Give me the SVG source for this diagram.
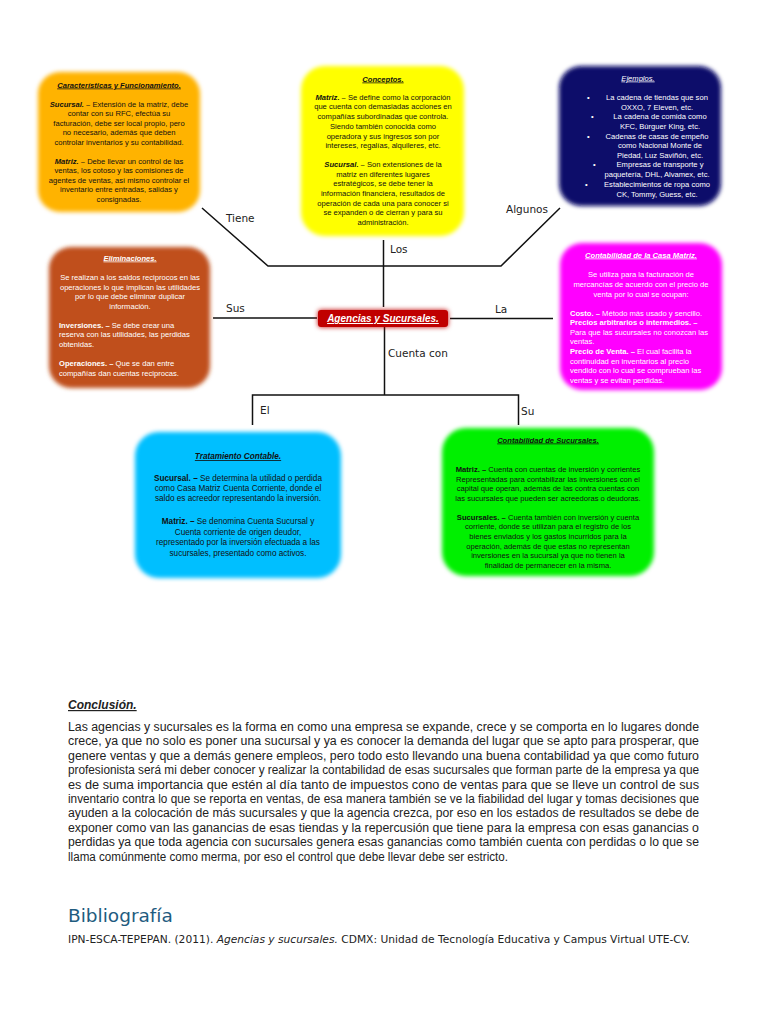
<svg xmlns="http://www.w3.org/2000/svg" width="768" height="1024" viewBox="0 0 768 1024">
<defs>
<filter id="soft" x="-10%" y="-10%" width="120%" height="120%"><feGaussianBlur stdDeviation="2.2"/></filter>
<filter id="glow" x="-20%" y="-60%" width="140%" height="220%"><feGaussianBlur in="SourceGraphic" stdDeviation="2.5" result="b"/><feMerge><feMergeNode in="b"/><feMergeNode in="SourceGraphic"/></feMerge></filter>
<style>
.t{font-family:"Liberation Sans",Arial,sans-serif;font-size:7.6px;fill:#111}
.w{fill:#fff}
.m{text-anchor:middle}
.b{font-weight:bold}
.bi{font-weight:bold;font-style:italic}
.u{text-decoration:underline}
.lbl{font-family:"DejaVu Sans",sans-serif;font-size:10.5px;fill:#222}
.ln{stroke:#111;stroke-width:1.5;fill:none}
.c{font-family:"Liberation Sans Narrow","Liberation Sans",Arial,sans-serif;font-size:12px;fill:#222}
</style>
</defs>
<rect width="768" height="1024" fill="#fff"/>

<g id="connectors">
<polyline class="ln" points="202,208 268,266 501,266 560,208"/>
<line class="ln" x1="383.5" y1="240" x2="383.5" y2="307"/>
<line class="ln" x1="213" y1="318" x2="317" y2="318"/>
<line class="ln" x1="450" y1="318.5" x2="553" y2="318.5"/>
<line class="ln" x1="384.5" y1="327" x2="384.5" y2="395" stroke-width="2"/>
<polyline class="ln" points="252.5,425 252.5,395 518.5,395 518.5,425"/>
<text class="lbl" x="226" y="222">Tiene</text>
<text class="lbl" x="506" y="213">Algunos</text>
<text class="lbl" x="390" y="253">Los</text>
<text class="lbl" x="226" y="312">Sus</text>
<text class="lbl" x="495" y="313">La</text>
<text class="lbl" x="388" y="357">Cuenta con</text>
<text class="lbl" x="260" y="414">El</text>
<text class="lbl" x="521" y="415">Su</text>
</g>

<g id="center">
<rect x="318" y="310" width="130" height="17" rx="3" fill="#C00000" filter="url(#glow)"/>
<text class="t m w bi u" x="383" y="322" style="font-size:10px">Agencias y Sucursales.</text>
</g>

<g id="caracteristicas">
<rect x="38" y="72" width="162" height="140" rx="22" fill="#FFB300" filter="url(#soft)"/>
<text class="t m bi u" x="119" y="87.5">Características y Funcionamiento.</text>
<text class="t m" x="119" y="106.5"><tspan class="bi">Sucursal. –</tspan> Extensión de la matriz, debe</text>
<text class="t m" x="119" y="116">contar con su RFC, efectúa su</text>
<text class="t m" x="119" y="125.5">facturación, debe ser local propio, pero</text>
<text class="t m" x="119" y="135">no necesario, además que deben</text>
<text class="t m" x="119" y="144.5">controlar inventarios y su contabilidad.</text>
<text class="t m" x="119" y="163.5"><tspan class="bi">Matriz. –</tspan> Debe llevar un control de las</text>
<text class="t m" x="119" y="173">ventas, los cotoso y las comisiones de</text>
<text class="t m" x="119" y="182.5">agentes de ventas, así mismo controlar el</text>
<text class="t m" x="119" y="192">inventario entre entradas, salidas y</text>
<text class="t m" x="119" y="201.5">consignadas.</text>
</g>

<g id="conceptos">
<rect x="301" y="66" width="163" height="170" rx="24" fill="#FFFF00" filter="url(#soft)"/>
<text class="t m bi u" x="383" y="81.5">Conceptos.</text>
<text class="t m" x="383" y="99.5"><tspan class="bi">Matriz. –</tspan> Se define como la corporación</text>
<text class="t m" x="383" y="108.5">que cuenta con demasiadas acciones en</text>
<text class="t m" x="383" y="118.5">compañías subordinadas que controla.</text>
<text class="t m" x="383" y="128.5">Siendo también conocida como</text>
<text class="t m" x="383" y="138.5">operadora y sus ingresos son por</text>
<text class="t m" x="383" y="147.5">intereses, regalías, alquileres, etc.</text>
<text class="t m" x="383" y="166.5"><tspan class="bi">Sucursal. –</tspan> Son extensiones de la</text>
<text class="t m" x="383" y="176.5">matriz en diferentes lugares</text>
<text class="t m" x="383" y="185.5">estratégicos, se debe tener la</text>
<text class="t m" x="383" y="195.5">información financiera, resultados de</text>
<text class="t m" x="383" y="205.5">operación de cada una para conocer si</text>
<text class="t m" x="383" y="214.5">se expanden o de cierran y para su</text>
<text class="t m" x="383" y="224.5">administración.</text>
</g>

<g id="ejemplos">
<rect x="559" y="66" width="162" height="140" rx="22" fill="#07076B" filter="url(#soft)"/>
<text class="t m w u" x="638" y="80.5" style="font-style:italic">Ejemplos.</text>
<text class="t w" x="587" y="99.5">•</text>
<text class="t m w" x="657" y="99.5">La cadena de tiendas que son</text>
<text class="t m w" x="657" y="109.5">OXXO, 7 Eleven, etc.</text>
<text class="t w" x="591" y="118.5">•</text>
<text class="t m w" x="660" y="118.5">La cadena de comida como</text>
<text class="t m w" x="660" y="128.5">KFC, Búrguer King, etc.</text>
<text class="t w" x="587" y="138.5">•</text>
<text class="t m w" x="657" y="138.5">Cadenas de casas de empeño</text>
<text class="t m w" x="660" y="147.5">como Nacional Monte de</text>
<text class="t m w" x="660" y="157.5">Piedad, Luz Saviñón, etc.</text>
<text class="t w" x="593" y="166.5">•</text>
<text class="t m w" x="660" y="166.5">Empresas de transporte y</text>
<text class="t m w" x="657" y="176.5">paquetería, DHL, Alvamex, etc.</text>
<text class="t w" x="585" y="186.5">•</text>
<text class="t m w" x="657" y="186.5">Establecimientos de ropa como</text>
<text class="t m w" x="657" y="196.5">CK, Tommy, Guess, etc.</text>
</g>

<g id="eliminaciones">
<rect x="49" y="247" width="161" height="141" rx="22" fill="#C04F1A" filter="url(#soft)"/>
<text class="t m w bi u" x="130" y="260.5">Eliminaciones.</text>
<text class="t m w" x="130" y="279.5">Se realizan a los saldos reciprocos en las</text>
<text class="t m w" x="130" y="289.5">operaciones lo que implican las utilidades</text>
<text class="t m w" x="130" y="298.5">por lo que debe eliminar duplicar</text>
<text class="t m w" x="130" y="308.5">información.</text>
<text class="t w" x="59" y="327.5"><tspan class="b">Inversiones. –</tspan> Se debe crear una</text>
<text class="t w" x="59" y="336.5">reserva con las utilidades, las perdidas</text>
<text class="t w" x="59" y="346.5">obtenidas.</text>
<text class="t w" x="59" y="365.5"><tspan class="b">Operaciones. –</tspan> Que se dan entre</text>
<text class="t w" x="59" y="375.5">compañías dan cuentas reciprocas.</text>
</g>

<g id="casa-matriz">
<rect x="560" y="243" width="162" height="147" rx="22" fill="#FF00FF" filter="url(#soft)"/>
<text class="t m w bi u" x="641" y="257.5">Contabilidad de la Casa Matriz.</text>
<text class="t m w" x="641" y="276.5">Se utiliza para la facturación de</text>
<text class="t m w" x="641" y="286.5">mercancías de acuerdo con el precio de</text>
<text class="t m w" x="641" y="296.5">venta por lo cual se ocupan:</text>
<text class="t w" x="570" y="315.5"><tspan class="b">Costo. –</tspan> Método más usado y sencillo.</text>
<text class="t w b" x="570" y="324.5">Precios arbitrarios o intermedios. –</text>
<text class="t w" x="570" y="334.5">Para que las sucursales no conozcan las</text>
<text class="t w" x="570" y="343.5">ventas.</text>
<text class="t w" x="570" y="353.5"><tspan class="b">Precio de Venta. –</tspan> El cual facilita la</text>
<text class="t w" x="570" y="363.5">continuidad en inventarios al precio</text>
<text class="t w" x="570" y="372.5">vendido con lo cual se comprueban las</text>
<text class="t w" x="570" y="382.5">ventas y se evitan perdidas.</text>
</g>

<g id="tratamiento">
<rect x="135" y="432" width="206" height="146" rx="24" fill="#00BFFF" filter="url(#soft)"/>
<text class="t m bi u" x="238" y="459" style="font-size:8.2px">Tratamiento Contable.</text>
<text class="t m" x="238" y="481" style="font-size:8.2px"><tspan class="b">Sucursal. –</tspan> Se determina la utilidad o perdida</text>
<text class="t m" x="238" y="491" style="font-size:8.2px">como Casa Matriz Cuenta Corriente, donde el</text>
<text class="t m" x="238" y="501" style="font-size:8.2px">saldo es acreedor representando la inversión.</text>
<text class="t m" x="238" y="524" style="font-size:8.2px"><tspan class="b">Matriz. –</tspan> Se denomina Cuenta Sucursal y</text>
<text class="t m" x="238" y="535" style="font-size:8.2px">Cuenta corriente de origen deudor,</text>
<text class="t m" x="238" y="545" style="font-size:8.2px">representado por la inversión efectuada a las</text>
<text class="t m" x="238" y="556" style="font-size:8.2px">sucursales, presentado como activos.</text>
</g>

<g id="sucursales">
<rect x="442" y="428" width="212" height="148" rx="24" fill="#00F000" filter="url(#soft)"/>
<text class="t m bi u" x="548" y="442.5">Contabilidad de Sucursales.</text>
<text class="t m" x="548" y="471.5"><tspan class="b">Matriz. –</tspan> Cuenta con cuentas de inversión y corrientes</text>
<text class="t m" x="548" y="481.5">Representadas para contabilizar las inversiones con el</text>
<text class="t m" x="548" y="490.5">capital que operan, además de las contra cuentas con</text>
<text class="t m" x="548" y="500.5">las sucursales que pueden ser acreedoras o deudoras.</text>
<text class="t m" x="548" y="519.5"><tspan class="b">Sucursales. –</tspan> Cuenta también con inversión y cuenta</text>
<text class="t m" x="548" y="528.5">corriente, donde se utilizan para el registro de los</text>
<text class="t m" x="548" y="538.5">bienes enviados y los gastos incurridos para la</text>
<text class="t m" x="548" y="548.5">operación, además de que estas no representan</text>
<text class="t m" x="548" y="557.5">inversiones en la sucursal ya que no tienen la</text>
<text class="t m" x="548" y="567.5">finalidad de permanecer en la misma.</text>
</g>

<g id="conclusion">
<text class="c" x="68" y="709" style="font-weight:bold;font-style:italic;text-decoration:underline">Conclusión.</text>
<text class="c" x="68" y="731" textLength="631" lengthAdjust="spacingAndGlyphs">Las agencias y sucursales es la forma en como una empresa se expande, crece y se comporta en lo lugares donde</text>
<text class="c" x="68" y="745.4" textLength="631" lengthAdjust="spacingAndGlyphs">crece, ya que no solo es poner una sucursal y ya es conocer la demanda del lugar que se apto para prosperar, que</text>
<text class="c" x="68" y="759.8" textLength="631" lengthAdjust="spacingAndGlyphs">genere ventas y que a demás genere empleos, pero todo esto llevando una buena contabilidad ya que como futuro</text>
<text class="c" x="68" y="774.2" textLength="631" lengthAdjust="spacingAndGlyphs">profesionista será mi deber conocer y realizar la contabilidad de esas sucursales que forman parte de la empresa ya que</text>
<text class="c" x="68" y="788.6" textLength="631" lengthAdjust="spacingAndGlyphs">es de suma importancia que estén al día tanto de impuestos cono de ventas para que se lleve un control de sus</text>
<text class="c" x="68" y="803" textLength="631" lengthAdjust="spacingAndGlyphs">inventario contra lo que se reporta en ventas, de esa manera también se ve la fiabilidad del lugar y tomas decisiones que</text>
<text class="c" x="68" y="817.4" textLength="631" lengthAdjust="spacingAndGlyphs">ayuden a la colocación de más sucursales y que la agencia crezca, por eso en los estados de resultados se debe de</text>
<text class="c" x="68" y="831.8" textLength="631" lengthAdjust="spacingAndGlyphs">exponer como van las ganancias de esas tiendas y la repercusión que tiene para la empresa con esas ganancias o</text>
<text class="c" x="68" y="846.2" textLength="631" lengthAdjust="spacingAndGlyphs">perdidas ya que toda agencia con sucursales genera esas ganancias como también cuenta con perdidas o lo que se</text>
<text class="c" x="68" y="860.6" textLength="440" lengthAdjust="spacingAndGlyphs">llama comúnmente como merma, por eso el control que debe llevar debe ser estricto.</text>
</g>

<g id="bibliografia">
<text x="68" y="922" style="font-family:'DejaVu Sans',sans-serif;font-size:18.5px;fill:#1F5C80">Bibliografía</text>
<text x="68" y="943" textLength="622" lengthAdjust="spacingAndGlyphs" style="font-family:'DejaVu Sans',sans-serif;font-size:10px;fill:#222">IPN-ESCA-TEPEPAN. (2011). <tspan style="font-style:italic">Agencias y sucursales.</tspan> CDMX: Unidad de Tecnología Educativa y Campus Virtual UTE-CV.</text>
</g>
</svg>
